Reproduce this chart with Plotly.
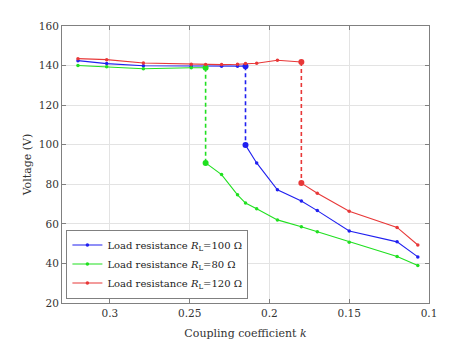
import plotly.graph_objects as go

# Data
red_up_k = [0.32, 0.302, 0.279, 0.249, 0.24, 0.23, 0.22, 0.215, 0.208, 0.195, 0.18]
red_up_v = [143.5, 143.0, 141.3, 140.7, 140.5, 140.5, 140.7, 141.0, 141.2, 142.7, 141.8]
red_lo_k = [0.18, 0.17, 0.15, 0.12, 0.107]
red_lo_v = [80.6, 75.5, 66.4, 58.2, 49.3]

blue_up_k = [0.32, 0.302, 0.279, 0.249, 0.24, 0.23, 0.22, 0.215]
blue_up_v = [142.5, 141.0, 139.9, 139.7, 139.6, 139.7, 139.7, 139.7]
blue_lo_k = [0.215, 0.208, 0.195, 0.18, 0.17, 0.15, 0.12, 0.107]
blue_lo_v = [99.8, 90.8, 77.2, 71.5, 66.7, 56.4, 50.9, 43.3]

green_up_k = [0.32, 0.302, 0.279, 0.249, 0.24]
green_up_v = [140.0, 139.4, 138.4, 138.9, 138.9]
green_lo_k = [0.24, 0.23, 0.22, 0.215, 0.208, 0.195, 0.18, 0.17, 0.15, 0.12, 0.107]
green_lo_v = [90.8, 84.9, 74.7, 70.5, 67.6, 62.0, 58.5, 56.0, 50.7, 43.5, 38.9]

series = [
    ("Load resistance <i>R</i><sub>L</sub>=100 Ω", "#2020f0", blue_up_k, blue_up_v, blue_lo_k, blue_lo_v),
    ("Load resistance <i>R</i><sub>L</sub>=80 Ω", "#20e020", green_up_k, green_up_v, green_lo_k, green_lo_v),
    ("Load resistance <i>R</i><sub>L</sub>=120 Ω", "#e83838", red_up_k, red_up_v, red_lo_k, red_lo_v),
]

x_ticks = [0.3, 0.25, 0.2, 0.15, 0.1]
y_ticks = [20, 40, 60, 80, 100, 120, 140, 160]

fig = go.Figure()
for name, col, uk, uv, lk, lv in series:
    # dashed jump
    fig.add_trace(go.Scatter(x=[uk[-1], lk[0]], y=[uv[-1], lv[0]], mode="lines",
                             line=dict(color=col, width=1.6, dash="4px,3px"),
                             showlegend=False, hoverinfo="skip"))
    fig.add_trace(go.Scatter(x=uk, y=uv, mode="lines+markers", name=name,
                             line=dict(color=col, width=1.1),
                             marker=dict(color=col, size=3.5), legendgroup=name))
    fig.add_trace(go.Scatter(x=lk, y=lv, mode="lines+markers", name=name,
                             line=dict(color=col, width=1.1),
                             marker=dict(color=col, size=3.5), legendgroup=name,
                             showlegend=False))
    fig.add_trace(go.Scatter(x=[uk[-1], lk[0]], y=[uv[-1], lv[0]], mode="markers",
                             marker=dict(color=col, size=6), showlegend=False,
                             hoverinfo="skip"))

font = "DejaVu Serif"
fig.update_layout(
    width=474, height=349,
    margin=dict(l=62, r=45, t=26, b=40),
    paper_bgcolor="white", plot_bgcolor="white",
    font=dict(family=font, size=10, color="#333333"),
    showlegend=True,
    legend=dict(x=0.012, y=0.016, xanchor="left", yanchor="bottom",
                bgcolor="white", bordercolor="#808080", borderwidth=1,
                font=dict(family=font, size=10, color="#222222"),
                itemwidth=30, tracegroupgap=0),
    xaxis=dict(range=[0.33, 0.1], tickvals=x_ticks, ticktext=[str(t) for t in x_ticks],
               tickfont=dict(family=font, size=10.5),
               showgrid=True, gridcolor="#e3e3e3", gridwidth=1,
               showline=True, linecolor="#808080", linewidth=1, mirror="ticks",
               ticks="inside", ticklen=4, tickcolor="#808080", zeroline=False,
               title=dict(text="Coupling coefficient <i>k</i>", font=dict(family=font, size=11), standoff=11)),
    yaxis=dict(range=[20, 160], tickvals=y_ticks,
               tickfont=dict(family=font, size=10.5),
               showgrid=True, gridcolor="#e3e3e3", gridwidth=1,
               showline=True, linecolor="#808080", linewidth=1, mirror="ticks",
               ticks="inside", ticklen=4, tickcolor="#808080", zeroline=False,
               title=dict(text="Voltage (V)", font=dict(family=font, size=11), standoff=5)),
)

fig.write_html("out.html")
